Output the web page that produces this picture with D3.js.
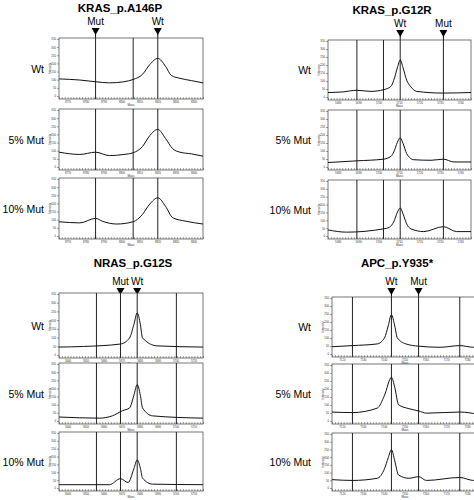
<!DOCTYPE html>
<html><head><meta charset="utf-8">
<script src="https://cdn.jsdelivr.net/npm/d3@7"></script>
<style>body{margin:0;background:#fff}text{font-family:Arial,"Liberation Sans",sans-serif}</style>
</head><body><svg id="c" width="474" height="500"></svg>
<script>
// ---- data ----
const titles = ["KRAS_p.A146P", "KRAS_p.G12R", "NRAS_p.G12S", "APC_p.Y935*"];
const rowLabels = ["Wt", "5% Mut", "10% Mut"];
const markerNames = [["Mut","Wt"], ["Wt","Mut"], ["Mut","Wt"], ["Wt","Mut"]];
const markerPos = [[25.4,68.6], [50.5,80.7], [42.7,54.3], [40.7,59.3]];
const gridLines = [[25.4,51.5,68.6], [20.2,38.8,50.5,80.7], [26,42.7,54.3,81.5], [14,40.7,59.3,87.5]];
const massTicks = [["8770","8780","8790","8800","8810","8820","8830","8840"],
  ["5680","5690","5700","5710","5720","5730","5740"],
  ["5640","5650","5660","5670","5680","5690","5700","5710"],
  ["7120","7130","7140","7150","7160","7170","7180"]];
// intensities (fraction of full scale) vs relative mass position (0-100)
const a146p_wt  = [[0,.30],[14.5,.28],[25.4,.25],[35,.23],[45,.25],[51.5,.29],[58,.38],[63,.55],[68.6,.66],[74,.52],[78,.36],[84,.31],[92,.27],[100,.23]];
const a146p_5   = [[0,.26],[14.5,.22],[25.4,.26],[35,.20],[45,.22],[51.5,.25],[58,.36],[63,.55],[68.6,.66],[74,.50],[79,.32],[84,.26],[92,.23],[100,.19]];
const a146p_10  = [[0,.25],[14.5,.23],[25.4,.31],[30,.26],[40,.21],[51.5,.25],[58,.38],[63,.56],[68.6,.67],[74,.52],[79,.32],[88,.26],[100,.21]];
const g12r_wt   = [[0,.08],[10,.09],[20.2,.12],[30,.10],[38.8,.13],[44,.19],[46,.30],[48.5,.52],[50.5,.66],[52.5,.52],[55,.30],[58,.18],[62,.10],[80.7,.07],[100,.08]];
const g12r_5    = [[0,.08],[20.2,.11],[38.8,.14],[44,.19],[46,.27],[48.5,.44],[50.5,.52],[52.5,.42],[55,.24],[60,.13],[72,.12],[80.7,.14],[88,.09],[100,.09]];
const g12r_10   = [[0,.11],[13,.07],[38.8,.13],[43,.16],[46,.26],[48.5,.43],[50.5,.51],[52.5,.40],[55,.22],[58,.13],[67,.08],[80.7,.17],[90,.08],[100,.08]];
const g12s_wt   = [[0,.13],[17,.14],[42.7,.18],[49,.28],[52,.50],[54.3,.69],[56.5,.50],[58,.28],[68,.15],[100,.13]];
const g12s_5    = [[0,.07],[28,.05],[37,.09],[44,.18],[49,.23],[52,.45],[54.3,.64],[56.5,.45],[58,.23],[65,.09],[100,.05]];
const g12s_10   = [[0,.06],[35,.06],[42.7,.17],[48,.10],[52,.35],[54.3,.51],[56.5,.36],[58,.18],[65,.07],[100,.06]];
const y935_wt   = [[0,.13],[14,.15],[31,.18],[36,.29],[38.5,.50],[40.7,.70],[43,.50],[44.7,.29],[50.6,.18],[59.3,.14],[74,.12],[87.5,.15],[97,.12],[100,.12]];
const y935_5    = [[0,.16],[14,.15],[31,.23],[36,.46],[40.7,.78],[43,.60],[45.6,.29],[52.7,.22],[59.3,.18],[64.7,.14],[87.5,.16],[100,.12]];
const y935_10   = [[0,.155],[14,.14],[31,.18],[36,.36],[38.5,.56],[40.7,.71],[43,.50],[45.6,.24],[52.7,.18],[59.3,.21],[64.7,.14],[87.5,.195],[97,.14],[100,.14]];
const series = [[a146p_wt,a146p_5,a146p_10],[g12r_wt,g12r_5,g12r_10],[g12s_wt,g12s_5,g12s_10],[y935_wt,y935_5,y935_10]];

// ---- layout ----
const panels = [
  {x0:59,x1:203,rows:[[38,99],[109,170],[178,239]],tx:120,ty:12,my:25,lx:44},
  {x0:328,x1:471,rows:[[40,100],[110,170],[180,239]],tx:392,ty:14,my:27,lx:311},
  {x0:59,x1:203,rows:[[293,358],[363,424],[432,491]],tx:133,ty:267,my:285,lx:44},
  {x0:332,x1:478,rows:[[297,357],[364,424],[433,491]],tx:397,ty:267,my:285,lx:311}
];
const svg = d3.select("#c");
panels.forEach((p,pi)=>{
  const x = d3.scaleLinear().domain([0,100]).range([p.x0,p.x1]);
  svg.append("text").attr("x",p.tx).attr("y",p.ty).attr("text-anchor","middle")
    .attr("font-size",11.5).attr("font-weight","bold").text(titles[pi]);
  markerPos[pi].forEach((m,mi)=>{
    const mx = x(m);
    svg.append("text").attr("x",mx).attr("y",p.my).attr("text-anchor","middle").attr("font-size",10).text(markerNames[pi][mi]);
    svg.append("path").attr("d",`M${mx-4},${p.my+3}L${mx+4},${p.my+3}L${mx},${p.my+10}Z`).attr("fill","#000");
    svg.append("line").attr("x1",mx).attr("x2",mx).attr("y1",p.my+9).attr("y2",p.rows[0][0]).attr("stroke","#000");
  });
  p.rows.forEach((r,ri)=>{
    const [top,bot]=r;
    const y = d3.scaleLinear().domain([0,1]).range([bot-3,top+1]);
    const g = svg.append("g");
    g.append("rect").attr("x",p.x0).attr("y",top).attr("width",p.x1-p.x0).attr("height",bot-top)
      .attr("fill","#fff").attr("stroke","#555").attr("stroke-width",0.8);
    gridLines[pi].forEach(v=>g.append("line").attr("x1",x(v)).attr("x2",x(v)).attr("y1",top).attr("y2",bot)
      .attr("stroke","#222").attr("stroke-width",1));
    const ax = g.append("g").attr("transform",`translate(0,${bot})`)
      .call(d3.axisBottom(x).ticks(40).tickSize(-2).tickFormat(""));
    ax.select(".domain").remove(); ax.selectAll("line").attr("stroke","#444").attr("stroke-width",0.5);
    massTicks[pi].forEach((t,ti)=>{
      const n = massTicks[pi].length;
      g.append("text").attr("x",x((ti+0.5)*100/n)).attr("y",bot+4).attr("text-anchor","middle")
        .attr("font-size",2.8).attr("fill","#333").text(t);
    });
    g.append("text").attr("x",(p.x0+p.x1)/2).attr("y",bot+7).attr("text-anchor","middle").attr("font-size",3).attr("fill","#333").text("Mass");
    const yt = d3.scaleLinear().domain([0,350]).range([bot-3,top+1]);
    const ay = g.append("g").attr("transform",`translate(${p.x0},0)`)
      .call(d3.axisLeft(yt).ticks(7).tickSize(2).tickPadding(1));
    ay.select(".domain").remove();
    ay.selectAll("line").attr("stroke","#444").attr("stroke-width",0.5);
    ay.selectAll("text").attr("font-size",2.8).attr("fill","#333");
    g.append("text").attr("transform",`translate(${p.x0-8},${(top+bot)/2}) rotate(-90)`).attr("text-anchor","middle")
      .attr("font-size",3).attr("fill","#333").text("Intensity");
    const line = d3.line().x(d=>x(d[0])).y(d=>y(d[1])).curve(d3.curveMonotoneX);
    g.append("path").datum(series[pi][ri]).attr("d",line).attr("fill","none").attr("stroke","#111").attr("stroke-width",1);
    svg.append("text").attr("x",p.lx).attr("y",(top+bot)/2+4).attr("text-anchor","end").attr("font-size",10.5).text(rowLabels[ri]);
  });
});
</script></body></html>
